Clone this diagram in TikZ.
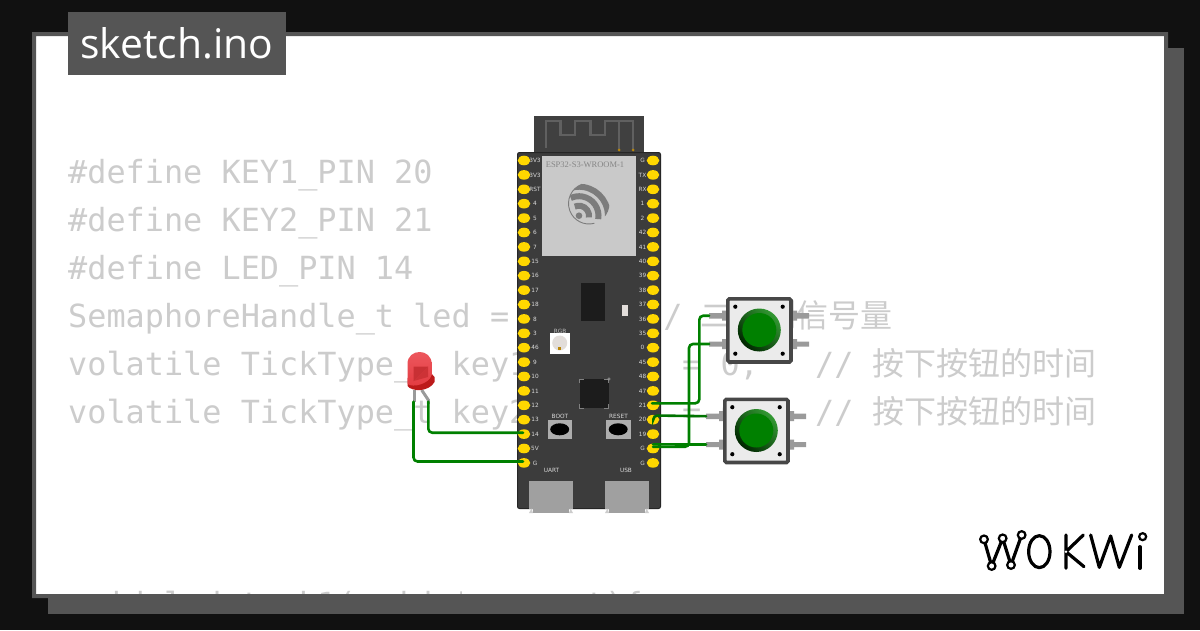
\documentclass[tikz,border=0pt]{standalone}
\usepackage{fontspec}
\setmainfont{Open Sans}
\newfontfamily\codefont{DejaVu Sans Mono}
\newfontfamily\cjkfont{Noto Sans CJK SC}
\newfontfamily\modfont{Liberation Serif}
\newfontfamily\pinfont{DejaVu Sans}
\usetikzlibrary{shapes.geometric}
\definecolor{bgdark}{HTML}{111111}
\definecolor{frame}{HTML}{555555}
\definecolor{codegray}{HTML}{CCCCCC}
\definecolor{board}{HTML}{3C3C3C}
\definecolor{antbg}{HTML}{404040}
\definecolor{anttrace}{HTML}{606060}
\definecolor{pingold}{HTML}{FFD700}
\definecolor{wiregreen}{HTML}{008000}
\definecolor{steel}{HTML}{9A9A9A}
\definecolor{lightcomp}{HTML}{E2DDDA}
\definecolor{ambermark}{HTML}{B8860B}
\definecolor{usbgray}{HTML}{A0A0A0}
\definecolor{chipdark}{HTML}{1C1C1C}
\definecolor{espgray}{HTML}{7C7C7C}
\definecolor{ledtop}{HTML}{EE5A60}
\definecolor{ledbot}{HTML}{E23A40}
\definecolor{ledrim}{HTML}{BC1A1A}
\definecolor{ledin}{HTML}{C83034}
\tikzset{
  x=1pt,y=-1pt,
  code/.style={anchor=base west,inner sep=0,text=codegray,font=\fontsize{31.85}{32}\codefont},
  cjk/.style={anchor=base west,inner sep=0,text=codegray,font=\fontsize{32}{32}\cjkfont},
  pinshape/.style={ellipse,fill=pingold,minimum width=12.6pt,minimum height=9.6pt,inner sep=0},
  pinlabel/.style={inner sep=0,text=white!85!black,font=\fontsize{5.8}{6}\pinfont},
  wire/.style={draw=wiregreen,line width=2.6pt,rounded corners=4pt,line cap=round},
  logo/.style={draw=black,line width=3.2pt,line cap=round,line join=round},
  ring/.style={draw=black,line width=2.2pt,fill=white},
  leg/.style={fill=steel,draw=none},
}
\begin{document}
\begin{tikzpicture}
\useasboundingbox (0,0) rectangle (1200,630);
\fill[bgdark] (0,0) rectangle (1200,630);
\fill[frame] (48,48) rectangle (1184,614);
\fill[white] (36,36) rectangle (1164,594);
% code
\begin{scope}
\clip (36,36) rectangle (1164,594);
\node[code] (c1) at (68,183) {\#define KEY1\_PIN 20};
\node[code] (c2) at (68,231) {\#define KEY2\_PIN 21};
\node[code] (c3) at (68,279) {\#define LED\_PIN 14};
\node[code] (c4) at (68,327) {SemaphoreHandle\_t led =};
\node[code] (c4b) at (644,327) {//};
\node[cjk] (c4c) at (700,327) {二进制信号量};
\node[code] (c5) at (68,375) {volatile TickType\_t key1};
\node[code] (c5b) at (682,375) {= 0;};
\node[code] (c5c) at (815,375) {//};
\node[cjk] (c5d) at (872,375) {按下按钮的时间};
\node[code] (c6) at (68,423) {volatile TickType\_t key2};
\node[code] (c6b) at (682,423) {= 0;};
\node[code] (c6c) at (815,423) {//};
\node[cjk] (c6d) at (872,423) {按下按钮的时间};
\node[code] (c7) at (68,615) {void led\_task1(void *argment)\{};
\end{scope}
\fill[frame,even odd rule] (32,32) rectangle (1168,598) (36,36) rectangle (1164,594);
% title tab
\fill[frame] (68,12) rectangle (286,75);
\node[inner sep=0,text=white,font=\fontsize{40.8}{40}\selectfont] (title) at (176.8,43) {sketch.ino};
% antenna
\fill[antbg] (534,116) rectangle (644,153);
\draw[line width=2.8pt,color=anttrace] (546,148) -- (546,121) -- (560.5,121) -- (560.5,135) -- (575,135) -- (575,121) -- (590.7,121) -- (590.7,135) -- (605,135) -- (605,121) -- (633,121) -- (633,150) (619,121) -- (619,150);
\fill[ambermark] (619,150) circle (1.5) (633,150) circle (1.5);
% board
\fill[board,draw=black!85,line width=1pt,rounded corners=2pt] (517.5,152.5) rectangle (660.5,508.5);
% USB
\foreach \ux/\nm in {529/uart,605/usb}{
  \fill[usbgray] (\ux,481) rectangle (\ux+44,508.5);
  \fill[usbgray] (\ux+4,508.5) rectangle (\ux+40,513);
  \fill[white!80!black] (\ux,513) -- (\ux+2.5,508.5) -- (\ux+4,513) -- cycle;
  \fill[white!80!black] (\ux+44,513) -- (\ux+41.5,508.5) -- (\ux+40,513) -- cycle;
}
% module
\fill[white!79!black] (542,156) rectangle (636,256);
\node[inner sep=0,text=white!52!black,font=\fontsize{8.5}{10}\modfont] (modname) at (585,165) {ESP32-S3-WROOM-1};
\begin{scope}
\clip (589,203.5) circle (20.5);
\begin{scope}[shift={(579,215.7)},x=1pt,y=1pt]
\foreach \r in {10,19.5,29}{
  \draw[espgray,line width=6pt] (-10:\r) arc[start angle=-10,end angle=115,radius=\r];
}
\end{scope}
\end{scope}
\fill[espgray] (579,215.7) circle (3.3);
\begin{scope}[shift={(589,203.5)},x=1pt,y=1pt]
\draw[espgray,line width=.9pt] (110:20.5) arc[start angle=110,end angle=285,radius=20.5];
\end{scope}
% pins
\foreach \i/\lbl in {0/3V3,1/3V3,2/RST,3/4,4/5,5/6,6/7,7/15,8/16,9/17,10/18,11/8,12/3,13/46,14/9,15/10,16/11,17/12,18/13,19/14,20/5V,21/G}{
  \node[pinshape] (lp\i) at (524,160.5+14.4*\i) {};
  \node[pinlabel] (ll\i) at (535,160.5+14.4*\i) {\lbl};
}
\foreach \i/\lbl in {0/G,1/TX,2/RX,3/1,4/2,5/42,6/41,7/40,8/39,9/38,10/37,11/36,12/35,13/0,14/45,15/48,16/47,17/21,18/20,19/19,20/G,21/G}{
  \node[pinshape] (rp\i) at (653,160.5+14.4*\i) {};
  \node[pinlabel] (rl\i) at (642.5,160.5+14.4*\i) {\lbl};
}
% chips
\fill[chipdark] (581,283) rectangle (605,321);
\fill[lightcomp] (622,305) rectangle (628,316);
\fill[white] (549.5,333) rectangle (570,353.5);
\fill[lightcomp] (559.7,343) circle (7.5);
\fill[ambermark] (558,347) rectangle (561,350);
\node[pinlabel,text=white!75!black] (rgb) at (560,331) {RGB};
\fill[chipdark] (579.5,379) rectangle (608.5,408);
\draw[white!50!black,line width=.6pt] (579.5,383) -- (579.5,379) -- (584,379) (604,379) -- (608.5,379) -- (608.5,383) (579.5,404) -- (579.5,408) -- (584,408) (604,408) -- (608.5,408) -- (608.5,404);
\draw[white!60!black,line width=.6pt] (609,379) circle (1.2);
% small buttons
\foreach \bx/\nm in {547.5/BOOT,606/RESET}{
  \fill[white!68!black] (\bx,419.5) rectangle (\bx+24.5,439);
  \fill[black] (\bx+12.2,429.3) ellipse (9.5 and 6);
  \node[pinlabel] at (\bx+12.5,416) {\nm};
}
\node[pinlabel] (uart) at (551.5,470) {UART};
\node[pinlabel] (usb) at (626,470) {USB};
% push buttons
\foreach \dx/\dy/\nm in {0/0/a,-3/100.5/b}{
 \begin{scope}[shift={(\dx,\dy)}]
  \fill[leg] (709,313) rectangle (723,318.5) (709,341.5) rectangle (723,346.5) (796,313) rectangle (809,318.5) (796,341.5) rectangle (809,346.5);
  \fill[leg] (722,310.5) rectangle (727,320.5) (722,339) rectangle (727,349) (792,310.5) rectangle (797,320.5) (792,339) rectangle (797,349);
  \fill[white!92!black,draw=black!72,line width=3.6pt,rounded corners=1.5pt] (727.8,298.8) rectangle (791,362);
  \fill[black] (735.3,306.7) circle (2.1) (782.7,306.7) circle (2.1) (735.3,353.7) circle (2.1) (782.7,353.7) circle (2.1);
  \shade[left color=wiregreen!80!white,right color=black!70!wiregreen,shading angle=-45] (759.3,330) circle (21.5);
  \fill[wiregreen] (759.3,330) circle (17);
  \coordinate (\nm t) at (709,315.7);
  \coordinate (\nm b) at (709,344);
 \end{scope}
}
% LED
\fill[steel] (412.5,390) rectangle (415.5,402);
\draw[steel,line width=3pt] (421.7,390) -- (428.3,400) -- (428.3,404);
\fill[ledrim] (407.5,378) -- (407.5,386) .. controls (412,392) and (429,392) .. (434.5,382) -- (434.5,377) -- (431,373) -- cycle;
\shade[top color=ledtop,bottom color=ledbot] (407.5,384) -- (407.5,364) .. controls (407.5,348) and (431.7,348) .. (431.7,364) -- (431.7,375) .. controls (429,384) and (413,388) .. (407.5,384) -- cycle;
\fill[ledin] (413.5,366.5) -- (428,366.5) -- (413.5,381) -- cycle;
\fill[ledin!80!ledbot] (428,366.5) -- (428,377) -- (413.5,381) -- cycle;
% wires
\coordinate (w1) at (523,432.7);
\coordinate (w1l) at (428.3,401.7);
\coordinate (w2) at (523,461.5);
\coordinate (w2l) at (413.5,401.7);
\coordinate (p21) at (652,403.3);
\coordinate (p20) at (653.3,419);
\coordinate (g1) at (653,446.8);
\coordinate (g2) at (653,444.4);
\draw[wire] (w1l) |- (w1);
\draw[wire] (w2l) |- (w2);
\draw[wire] (p21) -- (699.3,403.3) -- (699.3,315.7) -- (at);
\draw[wire] (g1) -- (689,446.8) -- (689,344) -- (ab);
\draw[wire,draw=wiregreen!90!black] (p20) -- (653.3,415.5) -- (bt);
\draw[wire] (g2) -- (bb);
% logo
\begin{scope}[shift={(960,510)},x=.3333pt,y=-.3333pt]
 \draw[logo] (72,88) -- (95,168) -- (128,85) -- (153,165) -- (185,75);
 \foreach \p in {(72,88),(128,85),(185,75),(95,168),(153,165)}{\filldraw[ring] \p circle (11.5);}
 \draw[logo] (238,125) ellipse (32 and 48);
 \draw[logo] (318,75) -- (318,175) (370,75) -- (318,125) -- (372,170);
 \fill[white] (318,125) circle (4);
 \draw[logo] (392,75) -- (418,172) -- (452,78) -- (478,172) -- (515,75);
 \draw[logo] (540,110) -- (540,175);
 \filldraw[ring] (548,80) circle (10.5);
\end{scope}
\end{tikzpicture}
\end{document}
